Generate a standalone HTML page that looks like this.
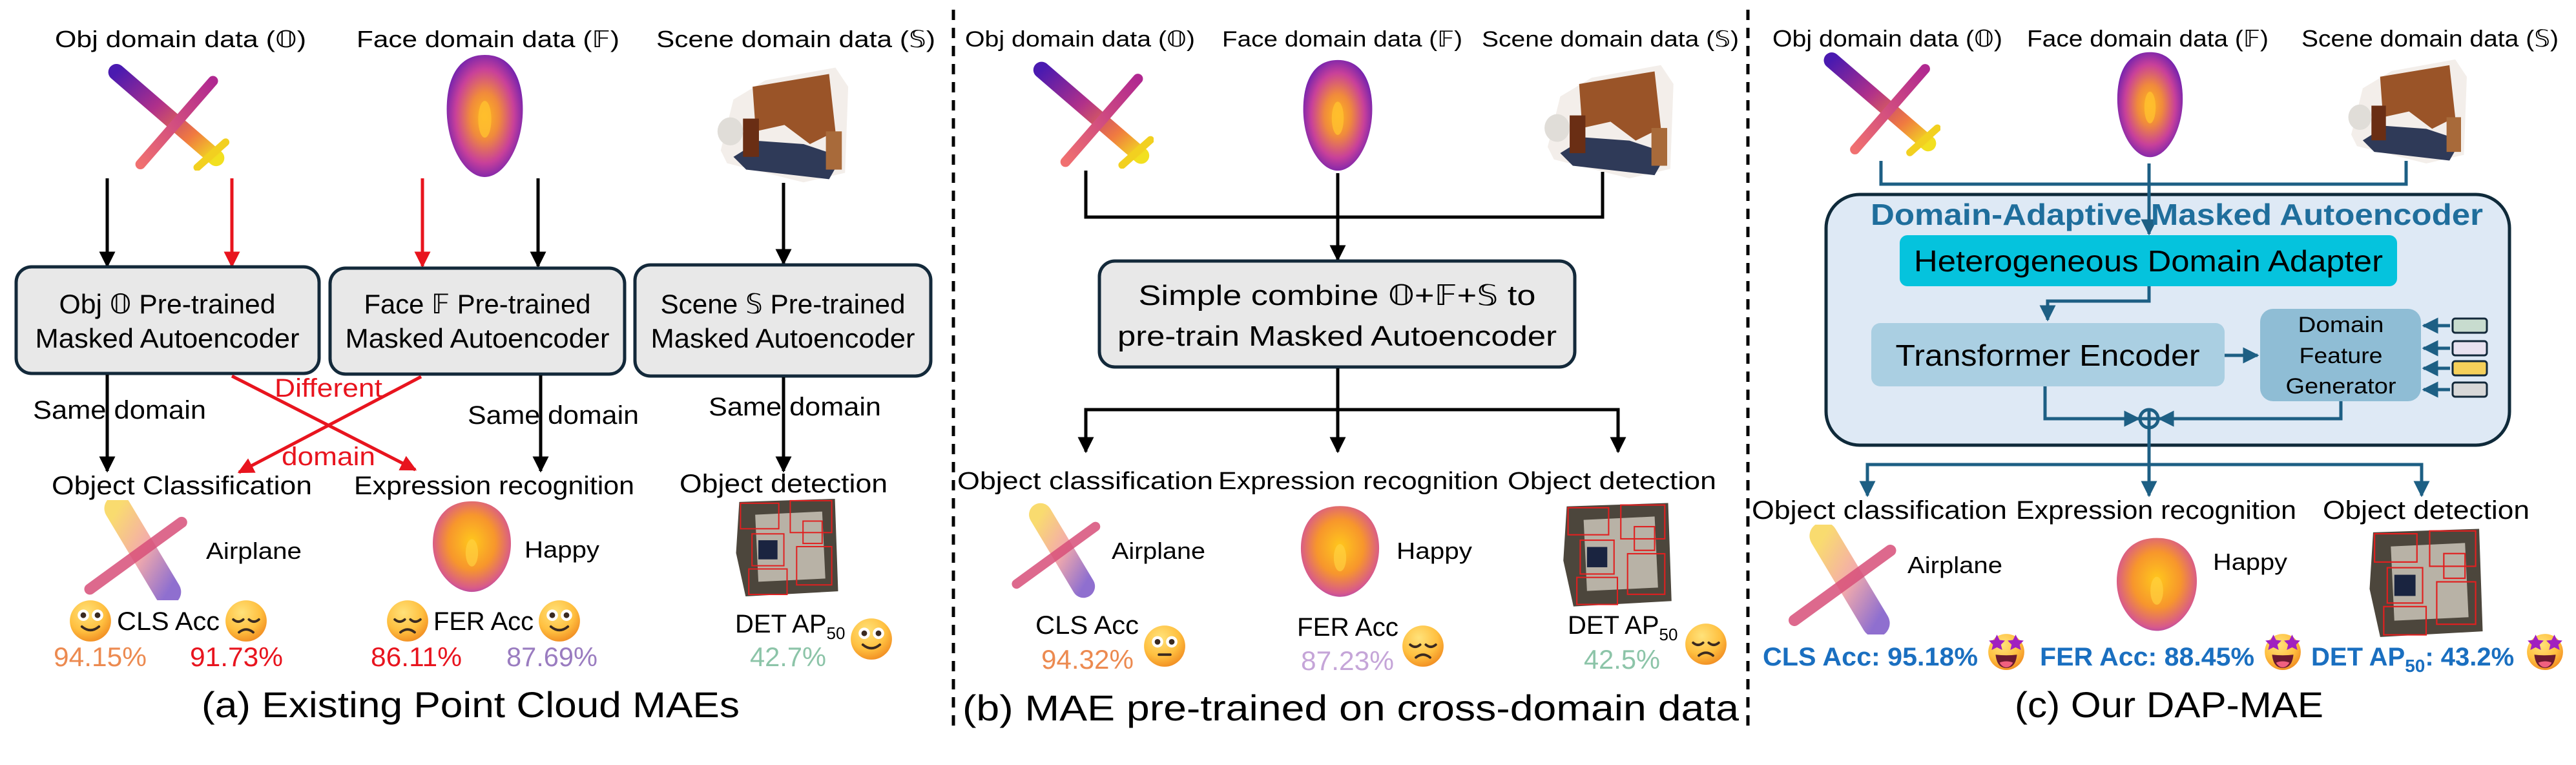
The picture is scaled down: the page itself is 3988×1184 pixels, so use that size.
<!DOCTYPE html>
<html><head><meta charset="utf-8"><style>
html,body{margin:0;padding:0;background:#fff;}
svg{display:block;}
text{font-family:"Liberation Sans","DejaVu Sans",sans-serif;}
</style></head><body>
<svg width="3988" height="1184" viewBox="0 0 3988 1184" xmlns="http://www.w3.org/2000/svg">
<defs>
<marker id="ab" viewBox="0 0 10 10" refX="9" refY="5" markerWidth="5" markerHeight="5" orient="auto" markerUnits="strokeWidth"><path d="M0,0 L10,5 L0,10 z" fill="#000"/></marker>
<marker id="ar" viewBox="0 0 10 10" refX="9" refY="5" markerWidth="5" markerHeight="5" orient="auto" markerUnits="strokeWidth"><path d="M0,0 L10,5 L0,10 z" fill="#e8141e"/></marker>
<marker id="au" viewBox="0 0 10 10" refX="9" refY="5" markerWidth="5" markerHeight="5" orient="auto" markerUnits="strokeWidth"><path d="M0,0 L10,5 L0,10 z" fill="#1d5f84"/></marker>
<linearGradient id="gFus" x1="0" y1="0" x2="1" y2="1"><stop offset="0" stop-color="#4a1ab0"/><stop offset=".4" stop-color="#b0308a"/><stop offset=".75" stop-color="#f07a40"/><stop offset="1" stop-color="#f2e020"/></linearGradient>
<linearGradient id="gWing" x1="0" y1="1" x2="1" y2="0"><stop offset="0" stop-color="#f07070"/><stop offset="1" stop-color="#b02890"/></linearGradient>
<linearGradient id="gW2" x1="0" y1="0" x2="1" y2="1"><stop offset="0" stop-color="#f8d040"/><stop offset=".5" stop-color="#f09090"/><stop offset="1" stop-color="#6a40c0"/></linearGradient>
<radialGradient id="gFace" cx=".5" cy=".5" r=".55"><stop offset="0" stop-color="#ffb81c"/><stop offset=".35" stop-color="#f08a3c"/><stop offset=".7" stop-color="#c8409a"/><stop offset="1" stop-color="#6a1fb0"/></radialGradient>
<radialGradient id="gFace2" cx=".5" cy=".45" r=".6"><stop offset="0" stop-color="#ffc81c"/><stop offset=".5" stop-color="#f7962c"/><stop offset=".85" stop-color="#d85a8a"/><stop offset="1" stop-color="#a040b8"/></radialGradient>
<radialGradient id="gEmo" cx=".4" cy=".3" r=".75"><stop offset="0" stop-color="#ffe27a"/><stop offset=".6" stop-color="#ffc040"/><stop offset="1" stop-color="#f08a20"/></radialGradient>
<symbol id="plane" viewBox="0 0 200 170">
<line x1="22" y1="14" x2="180" y2="150" stroke="url(#gFus)" stroke-width="26" stroke-linecap="round"/>
<line x1="60" y1="160" x2="175" y2="28" stroke="url(#gWing)" stroke-width="16" stroke-linecap="round"/>
<line x1="150" y1="165" x2="195" y2="125" stroke="#f2d020" stroke-width="12" stroke-linecap="round"/>
</symbol>
<symbol id="plane2" viewBox="0 0 200 180">
<line x1="70" y1="15" x2="160" y2="165" stroke="url(#gW2)" stroke-width="48" stroke-linecap="round" opacity=".75"/>
<line x1="20" y1="160" x2="185" y2="40" stroke="#d8507a" stroke-width="20" stroke-linecap="round" opacity=".85"/>
</symbol>
<symbol id="face" viewBox="0 0 120 190">
<path d="M60,2 C102,2 118,40 118,85 C118,140 90,188 60,188 C30,188 2,140 2,85 C2,40 18,2 60,2z" fill="url(#gFace)"/>
<ellipse cx="60" cy="100" rx="10" ry="28" fill="#ffc030" opacity=".8"/>
</symbol>
<symbol id="face2" viewBox="0 0 130 150">
<path d="M65,2 C110,2 128,35 128,70 C128,115 95,148 65,148 C35,148 2,115 2,70 C2,35 20,2 65,2z" fill="url(#gFace2)"/>
<ellipse cx="65" cy="85" rx="10" ry="22" fill="#ffd040" opacity=".7"/>
</symbol>
<symbol id="scene" viewBox="0 0 230 190">
<polygon points="20,140 40,60 90,30 200,10 220,40 215,175 150,190 30,160" fill="#f3eeea"/>
<polygon points="70,40 190,20 200,110 160,130 120,100 75,110" fill="#9a5428"/>
<polygon points="40,150 80,125 150,130 210,150 190,185 60,170" fill="#2f3a58"/>
<rect x="55" y="90" width="25" height="60" fill="#6a2e14"/>
<ellipse cx="35" cy="110" rx="20" ry="22" fill="#e0ddd8"/>
<rect x="185" y="110" width="25" height="60" fill="#a86a3a"/>
</symbol>
<symbol id="det" viewBox="0 0 170 160">
<polygon points="10,10 160,5 165,150 20,158 5,90" fill="#4c463c"/>
<polygon points="35,30 140,25 145,130 40,135" fill="#b8b2a6"/>
<rect x="40" y="70" width="30" height="30" fill="#1a2440"/>
<g fill="none" stroke="#e02020" stroke-width="2"><rect x="12" y="12" width="60" height="40"/><rect x="90" y="8" width="65" height="50"/><rect x="30" y="60" width="50" height="50"/><rect x="100" y="80" width="55" height="60"/><rect x="25" y="115" width="60" height="40"/><rect x="110" y="40" width="30" height="35"/></g>
</symbol>
<symbol id="eHappy" viewBox="0 0 60 60"><circle cx="30" cy="30" r="29" fill="url(#gEmo)"/><circle cx="20" cy="22" r="8" fill="#fff"/><circle cx="40" cy="22" r="8" fill="#fff"/><circle cx="20" cy="22" r="4" fill="#3a2a20"/><circle cx="40" cy="22" r="4" fill="#3a2a20"/><path d="M18,38 Q30,48 42,38" stroke="#3a2a20" stroke-width="3.5" fill="none" stroke-linecap="round"/></symbol>
<symbol id="eSad" viewBox="0 0 60 60"><circle cx="30" cy="30" r="29" fill="url(#gEmo)"/><path d="M12,28 Q19,34 26,28 M34,28 Q41,34 48,28" stroke="#3a2a20" stroke-width="3.5" fill="none" stroke-linecap="round"/><path d="M20,46 Q30,38 40,46" stroke="#3a2a20" stroke-width="3.5" fill="none" stroke-linecap="round"/></symbol>
<symbol id="eNeu" viewBox="0 0 60 60"><circle cx="30" cy="30" r="29" fill="url(#gEmo)"/><circle cx="20" cy="24" r="8" fill="#fff"/><circle cx="40" cy="24" r="8" fill="#fff"/><circle cx="20" cy="24" r="4" fill="#3a2a20"/><circle cx="40" cy="24" r="4" fill="#3a2a20"/><line x1="22" y1="42" x2="38" y2="42" stroke="#3a2a20" stroke-width="3.5" stroke-linecap="round"/></symbol>
<symbol id="eStar" viewBox="0 0 60 60"><circle cx="30" cy="32" r="27" fill="url(#gEmo)"/><path d="M16,6 l4,8 8,1 -6,6 2,8 -8,-4 -8,4 2,-8 -6,-6 8,-1z" fill="#a020c0"/><path d="M44,6 l4,8 8,1 -6,6 2,8 -8,-4 -8,4 2,-8 -6,-6 8,-1z" fill="#a020c0"/><path d="M14,36 Q30,38 46,36 Q44,56 30,56 Q16,56 14,36z" fill="#6a1a30"/><path d="M20,48 Q30,44 40,48 Q36,55 30,55 Q24,55 20,48z" fill="#f06080"/></symbol>
</defs>

<g stroke="#000" stroke-width="5" stroke-dasharray="16 12"><line x1="1476" y1="15" x2="1476" y2="1135"/><line x1="2706" y1="15" x2="2706" y2="1135"/></g>

<!-- ===== Panel a ===== -->
<g font-size="36" fill="#000">
<text x="85" y="73" textLength="389" lengthAdjust="spacingAndGlyphs">Obj domain data (𝕆)</text>
<text x="552" y="73" textLength="407" lengthAdjust="spacingAndGlyphs">Face domain data (𝔽)</text>
<text x="1016" y="73" textLength="432" lengthAdjust="spacingAndGlyphs">Scene domain data (𝕊)</text>
</g>
<use href="#plane" x="157" y="98" width="199" height="166"/>
<use href="#face" x="680" y="83" width="141" height="193"/>
<use href="#scene" x="1096" y="94" width="227" height="189"/>
<g stroke-width="5">
<line x1="166" y1="276" x2="166" y2="412" stroke="#000" marker-end="url(#ab)"/>
<line x1="359" y1="276" x2="359" y2="412" stroke="#e8141e" marker-end="url(#ar)"/>
<line x1="654" y1="276" x2="654" y2="412" stroke="#e8141e" marker-end="url(#ar)"/>
<line x1="833" y1="276" x2="833" y2="412" stroke="#000" marker-end="url(#ab)"/>
<line x1="1213" y1="283" x2="1213" y2="408" stroke="#000" marker-end="url(#ab)"/>
</g>
<g fill="#e8e8e8" stroke="#13293a" stroke-width="5">
<rect x="25" y="413" width="469" height="165" rx="24"/>
<rect x="511" y="415" width="456" height="164" rx="24"/>
<rect x="983" y="410" width="458" height="172" rx="24"/>
</g>
<g font-size="42" text-anchor="middle">
<text x="259" y="485" textLength="335" lengthAdjust="spacingAndGlyphs">Obj 𝕆 Pre-trained</text>
<text x="259" y="538" textLength="409" lengthAdjust="spacingAndGlyphs">Masked Autoencoder</text>
<text x="739" y="485" textLength="351" lengthAdjust="spacingAndGlyphs">Face 𝔽 Pre-trained</text>
<text x="739" y="538" textLength="409" lengthAdjust="spacingAndGlyphs">Masked Autoencoder</text>
<text x="1212" y="485" textLength="379" lengthAdjust="spacingAndGlyphs">Scene 𝕊 Pre-trained</text>
<text x="1212" y="538" textLength="409" lengthAdjust="spacingAndGlyphs">Masked Autoencoder</text>
</g>
<g stroke-width="5">
<line x1="166" y1="580" x2="166" y2="729" stroke="#000" marker-end="url(#ab)"/>
<line x1="837" y1="581" x2="837" y2="729" stroke="#000" marker-end="url(#ab)"/>
<line x1="1213" y1="584" x2="1213" y2="729" stroke="#000" marker-end="url(#ab)"/>
<line x1="359" y1="582" x2="643" y2="727" stroke="#e8141e" marker-end="url(#ar)"/>
<line x1="652" y1="583" x2="370" y2="731" stroke="#e8141e" marker-end="url(#ar)"/>
</g>
<g font-size="40">
<text x="51" y="648" textLength="268" lengthAdjust="spacingAndGlyphs">Same domain</text>
<text x="724" y="656" textLength="265" lengthAdjust="spacingAndGlyphs">Same domain</text>
<text x="1097" y="643" textLength="267" lengthAdjust="spacingAndGlyphs">Same domain</text>
<text x="425" y="614" fill="#e8141e" textLength="167" lengthAdjust="spacingAndGlyphs">Different</text>
<text x="436" y="720" fill="#e8141e" textLength="145" lengthAdjust="spacingAndGlyphs">domain</text>
<text x="80" y="765" textLength="403" lengthAdjust="spacingAndGlyphs">Object Classification</text>
<text x="548" y="765" textLength="434" lengthAdjust="spacingAndGlyphs">Expression recognition</text>
<text x="1052" y="762" textLength="322" lengthAdjust="spacingAndGlyphs">Object detection</text>
</g>
<use href="#plane2" x="106" y="774" width="204" height="155"/>
<use href="#face2" x="666" y="774" width="129" height="144"/>
<use href="#det" x="1133" y="767" width="171" height="158"/>
<g font-size="36">
<text x="319" y="865" textLength="148" lengthAdjust="spacingAndGlyphs">Airplane</text>
<text x="812" y="863" textLength="116" lengthAdjust="spacingAndGlyphs">Happy</text>
</g>
<g font-size="40">
<text x="181" y="975" textLength="159" lengthAdjust="spacingAndGlyphs">CLS Acc</text>
<text x="671" y="975" textLength="155" lengthAdjust="spacingAndGlyphs">FER Acc</text>
<text x="1138" y="979">DET AP<tspan font-size="26" dy="10">50</tspan></text>
</g>
<use href="#eHappy" x="107" y="928" width="66" height="66"/>
<use href="#eSad" x="348" y="928" width="66" height="66"/>
<use href="#eSad" x="598" y="928" width="66" height="66"/>
<use href="#eHappy" x="833" y="928" width="66" height="66"/>
<use href="#eHappy" x="1316" y="956" width="66" height="66"/>
<g font-size="42">
<text x="83" y="1031" fill="#ec8a50" textLength="144" lengthAdjust="spacingAndGlyphs">94.15%</text>
<text x="294" y="1031" fill="#e8141e" textLength="144" lengthAdjust="spacingAndGlyphs">91.73%</text>
<text x="574" y="1031" fill="#e8141e" textLength="141" lengthAdjust="spacingAndGlyphs">86.11%</text>
<text x="784" y="1031" fill="#9a7cc0" textLength="141" lengthAdjust="spacingAndGlyphs">87.69%</text>
<text x="1161" y="1031" fill="#8cc4a8" textLength="118" lengthAdjust="spacingAndGlyphs">42.7%</text>
</g>
<text x="312" y="1110" font-size="56" textLength="833" lengthAdjust="spacingAndGlyphs">(a) Existing Point Cloud MAEs</text>

<!-- ===== Panel b ===== -->
<g font-size="34">
<text x="1494" y="72" textLength="356" lengthAdjust="spacingAndGlyphs">Obj domain data (𝕆)</text>
<text x="1892" y="72" textLength="372" lengthAdjust="spacingAndGlyphs">Face domain data (𝔽)</text>
<text x="2294" y="72" textLength="398" lengthAdjust="spacingAndGlyphs">Scene domain data (𝕊)</text>
</g>
<use href="#plane" x="1591" y="94" width="195" height="167"/>
<use href="#face" x="2008" y="91" width="126" height="175"/>
<use href="#scene" x="2373" y="91" width="231" height="185"/>
<g stroke="#000" stroke-width="5" fill="none">
<polyline points="1681,264 1681,336 2481,336 2481,266"/>
<line x1="2071" y1="268" x2="2071" y2="402" marker-end="url(#ab)"/>
</g>
<rect x="1702" y="404" width="736" height="164" rx="24" fill="#e8e8e8" stroke="#13293a" stroke-width="5"/>
<g font-size="44" text-anchor="middle">
<text x="2070" y="472" textLength="615" lengthAdjust="spacingAndGlyphs">Simple combine 𝕆+𝔽+𝕊 to</text>
<text x="2070" y="535" textLength="680" lengthAdjust="spacingAndGlyphs">pre-train Masked Autoencoder</text>
</g>
<g stroke="#000" stroke-width="5" fill="none">
<line x1="2071" y1="570" x2="2071" y2="699" marker-end="url(#ab)"/>
<polyline points="1681,699 1681,634 2505,634 2505,699" marker-end="url(#ab)"/>
<line x1="1681" y1="640" x2="1681" y2="699" marker-end="url(#ab)"/>
</g>
<g font-size="38">
<text x="1482" y="757" textLength="396" lengthAdjust="spacingAndGlyphs">Object classification</text>
<text x="1886" y="757" textLength="434" lengthAdjust="spacingAndGlyphs">Expression recognition</text>
<text x="2334" y="757" textLength="323" lengthAdjust="spacingAndGlyphs">Object detection</text>
</g>
<use href="#plane2" x="1559" y="767" width="148" height="170"/>
<use href="#face2" x="2012" y="770" width="125" height="167"/>
<use href="#det" x="2415" y="770" width="178" height="174"/>
<g font-size="36">
<text x="1721" y="865" textLength="145" lengthAdjust="spacingAndGlyphs">Airplane</text>
<text x="2162" y="865" textLength="117" lengthAdjust="spacingAndGlyphs">Happy</text>
</g>
<g font-size="40">
<text x="1603" y="981" textLength="160" lengthAdjust="spacingAndGlyphs">CLS Acc</text>
<text x="2008" y="984" textLength="157" lengthAdjust="spacingAndGlyphs">FER Acc</text>
<text x="2427" y="981">DET AP<tspan font-size="26" dy="10">50</tspan></text>
</g>
<g font-size="42">
<text x="1612" y="1035" fill="#ec8a50" textLength="143" lengthAdjust="spacingAndGlyphs">94.32%</text>
<text x="2014" y="1037" fill="#c5a5d8" textLength="144" lengthAdjust="spacingAndGlyphs">87.23%</text>
<text x="2452" y="1035" fill="#8cc4a8" textLength="118" lengthAdjust="spacingAndGlyphs">42.5%</text>
</g>
<use href="#eNeu" x="1770" y="967" width="66" height="66"/>
<use href="#eSad" x="2170" y="967" width="66" height="66"/>
<use href="#eSad" x="2608" y="964" width="66" height="66"/>
<text x="1490" y="1115" font-size="56" textLength="1202" lengthAdjust="spacingAndGlyphs">(b) MAE pre-trained on cross-domain data</text>

<!-- ===== Panel c ===== -->
<g font-size="36">
<text x="2744" y="72" textLength="356" lengthAdjust="spacingAndGlyphs">Obj domain data (𝕆)</text>
<text x="3138" y="72" textLength="374" lengthAdjust="spacingAndGlyphs">Face domain data (𝔽)</text>
<text x="3563" y="72" textLength="398" lengthAdjust="spacingAndGlyphs">Scene domain data (𝕊)</text>
</g>
<use href="#plane" x="2815" y="79" width="189" height="163"/>
<use href="#face" x="3267" y="79" width="123" height="166"/>
<use href="#scene" x="3620" y="83" width="210" height="170"/>
<rect x="2827" y="301" width="1058" height="388" rx="52" fill="#dee9f5" stroke="#0f2a3a" stroke-width="5"/>
<g stroke="#1d5f84" stroke-width="5" fill="none">
<polyline points="2912,249 2912,285 3725,285 3725,249"/>
<line x1="3327" y1="253" x2="3327" y2="362" marker-end="url(#au)"/>
</g>
<text x="2896" y="348" font-size="46" font-weight="bold" fill="#1f6e9c" textLength="948" lengthAdjust="spacingAndGlyphs">Domain-Adaptive  Masked Autoencoder</text>
<rect x="2941" y="364" width="770" height="79" rx="12" fill="#05c3dd"/>
<text x="3326" y="420" font-size="46" text-anchor="middle" textLength="726" lengthAdjust="spacingAndGlyphs">Heterogeneous Domain Adapter</text>
<rect x="2897" y="500" width="547" height="98" rx="14" fill="#aacfe2"/>
<text x="3170" y="566" font-size="46" text-anchor="middle" textLength="471" lengthAdjust="spacingAndGlyphs">Transformer Encoder</text>
<rect x="3499" y="478" width="249" height="143" rx="20" fill="#8fbdd5"/>
<g font-size="34" text-anchor="middle">
<text x="3624" y="514" textLength="133" lengthAdjust="spacingAndGlyphs">Domain</text>
<text x="3624" y="562" textLength="129" lengthAdjust="spacingAndGlyphs">Feature</text>
<text x="3624" y="609" textLength="171" lengthAdjust="spacingAndGlyphs">Generator</text>
</g>
<g stroke="#13293a" stroke-width="3">
<rect x="3797" y="493" width="53" height="22" rx="4" fill="#c8dccf"/>
<rect x="3797" y="528" width="53" height="22" rx="4" fill="#e8e2f0"/>
<rect x="3797" y="559" width="53" height="22" rx="4" fill="#f5d05a"/>
<rect x="3797" y="592" width="53" height="22" rx="4" fill="#d8d8d8"/>
</g>
<g stroke="#1d5f84" stroke-width="5" fill="none">
<polyline points="3327,443 3327,466 3170,466 3170,495" marker-end="url(#au)"/>
<line x1="3444" y1="550" x2="3495" y2="550" marker-end="url(#au)"/>
<line x1="3793" y1="504" x2="3752" y2="504" marker-end="url(#au)"/>
<line x1="3793" y1="539" x2="3752" y2="539" marker-end="url(#au)"/>
<line x1="3793" y1="570" x2="3752" y2="570" marker-end="url(#au)"/>
<line x1="3793" y1="603" x2="3752" y2="603" marker-end="url(#au)"/>
<polyline points="3166,598 3166,648 3311,648" marker-end="url(#au)"/>
<polyline points="3624,621 3624,648 3343,648" marker-end="url(#au)"/>
<circle cx="3327" cy="648" r="14"/>
<line x1="3313" y1="648" x2="3341" y2="648"/>
<line x1="3327" y1="634" x2="3327" y2="767" marker-end="url(#au)"/>
<polyline points="2891,767 2891,719 3749,719 3749,767" marker-end="url(#au)"/>
<line x1="2891" y1="725" x2="2891" y2="767" marker-end="url(#au)"/>
</g>
<g font-size="40">
<text x="2712" y="803" textLength="395" lengthAdjust="spacingAndGlyphs">Object classification</text>
<text x="3121" y="803" textLength="434" lengthAdjust="spacingAndGlyphs">Expression recognition</text>
<text x="3596" y="803" textLength="320" lengthAdjust="spacingAndGlyphs">Object detection</text>
</g>
<use href="#plane2" x="2760" y="812" width="180" height="170"/>
<use href="#face2" x="3275" y="823" width="128" height="163"/>
<use href="#det" x="3663" y="812" width="186" height="177"/>
<g font-size="36">
<text x="2953" y="887" textLength="147" lengthAdjust="spacingAndGlyphs">Airplane</text>
<text x="3426" y="882" textLength="115" lengthAdjust="spacingAndGlyphs">Happy</text>
</g>
<g font-size="40" font-weight="bold" fill="#1a6fc0">
<text x="2729" y="1030" textLength="333" lengthAdjust="spacingAndGlyphs">CLS Acc: 95.18%</text>
<text x="3158" y="1030" textLength="332" lengthAdjust="spacingAndGlyphs">FER Acc: 88.45%</text>
<text x="3578" y="1030">DET AP<tspan font-size="28" dy="10">50</tspan><tspan dy="-10">: 43.2%</tspan></text>
</g>
<use href="#eStar" x="3075" y="976" width="62" height="62"/>
<use href="#eStar" x="3503" y="976" width="62" height="62"/>
<use href="#eStar" x="3909" y="976" width="62" height="62"/>
<text x="3119" y="1110" font-size="56" textLength="478" lengthAdjust="spacingAndGlyphs">(c) Our DAP-MAE</text>
</svg>
</body></html>
